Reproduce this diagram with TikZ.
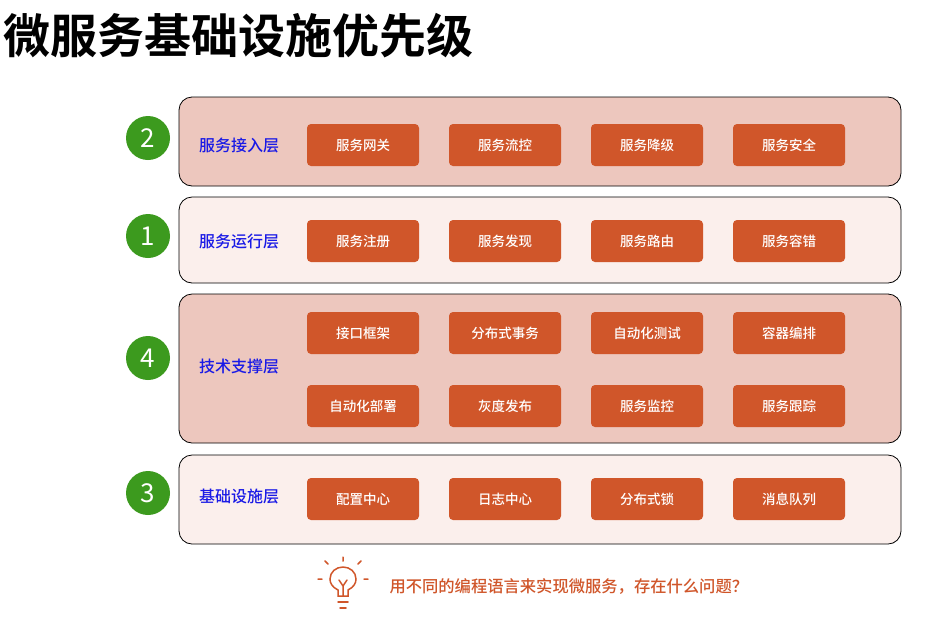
\documentclass[tikz,border=0pt]{standalone}
\usepackage{fontspec}
\setmainfont{Noto Sans CJK SC}
\newfontfamily\cjkb{Noto Sans CJK SC Bold}
\newfontfamily\cjkm{Noto Sans CJK SC Medium}
\begin{document}
\begin{tikzpicture}[x=1pt,y=-1pt,
  layer/.style={draw=black,line width=0.8pt,rounded corners=13pt},
  dark/.style={layer,fill=darkpink},
  light/.style={layer,fill=lightpink},
  num/.style={circle,fill=numgreen,minimum size=44pt,inner sep=0pt,text=white,font=\fontsize{26}{26}\selectfont},
  lab/.style={text=labblue,font=\cjkm\fontsize{16}{16}\selectfont,anchor=center},
  item/.style={fill=itemorange,rounded corners=4pt,minimum width=112pt,minimum height=42pt,inner sep=0pt,text=white,font=\cjkm\fontsize{13.5}{13.5}\selectfont},
  bulb/.style={draw=itemorange,line width=1.5pt,line cap=round}]
\definecolor{darkpink}{HTML}{EDC7BE}
\definecolor{lightpink}{HTML}{FBEFEC}
\definecolor{numgreen}{HTML}{3C9A1E}
\definecolor{labblue}{HTML}{1A1AE6}
\definecolor{itemorange}{HTML}{D0562A}
\useasboundingbox[fill=white] (0,0) rectangle (936,630);
\node[anchor=west,font=\cjkb\fontsize{47}{47}\selectfont] (title) at (0,36) {微服务基础设施优先级};
\path[dark] (179,97) rectangle (901,186);
\path[light] (179,197) rectangle (901,283);
\path[dark] (179,294) rectangle (901,443);
\path[light] (179,455) rectangle (901,544);
\node[num] (n2) at (148,138) {2};
\node[num] (n1) at (148,236) {1};
\node[num] (n4) at (148,358) {4};
\node[num] (n3) at (148,493) {3};
\node[lab] (l1) at (239,145) {服务接入层};
\node[lab] (l2) at (239,241) {服务运行层};
\node[lab] (l3) at (239,366) {技术支撑层};
\node[lab] (l4) at (239,496) {基础设施层};
\foreach \t [count=\i] in {服务网关,服务流控,服务降级,服务安全}
  \node[item] (a\i) at (363+142*\i-142,145) {\t};
\foreach \t [count=\i] in {服务注册,服务发现,服务路由,服务容错}
  \node[item] (b\i) at (363+142*\i-142,241) {\t};
\foreach \t [count=\i] in {接口框架,分布式事务,自动化测试,容器编排}
  \node[item] (c\i) at (363+142*\i-142,333) {\t};
\foreach \t [count=\i] in {自动化部署,灰度发布,服务监控,服务跟踪}
  \node[item] (d\i) at (363+142*\i-142,406) {\t};
\foreach \t [count=\i] in {配置中心,日志中心,分布式锁,消息队列}
  \node[item] (e\i) at (363+142*\i-142,499) {\t};
% bulb
\draw[bulb] (338,596) -- (338,590) .. controls (332,587) and (330,583) .. (330,579)
  .. controls (330,572) and (336,567) .. (343,567)
  .. controls (350,567) and (356,572) .. (356,579)
  .. controls (356,583) and (354,587) .. (348,590) -- (348,596) -- cycle;
\draw[bulb] (338,602) -- (348,602) (340,608) -- (346,608);
\draw[bulb] (339,580) -- (343,586) -- (347,580) (343,586) -- (343,596);
\draw[bulb] (343,557) -- (343,561) (322,579) -- (318,579) (364,579) -- (368,579)
  (328,564) -- (325,561) (358,564) -- (361,561);
\node[anchor=west,text=itemorange,font=\cjkm\fontsize{16.3}{16.3}\selectfont] (q) at (386,587) {用不同的编程语言来实现微服务，存在什么问题？};
\end{tikzpicture}
\end{document}
